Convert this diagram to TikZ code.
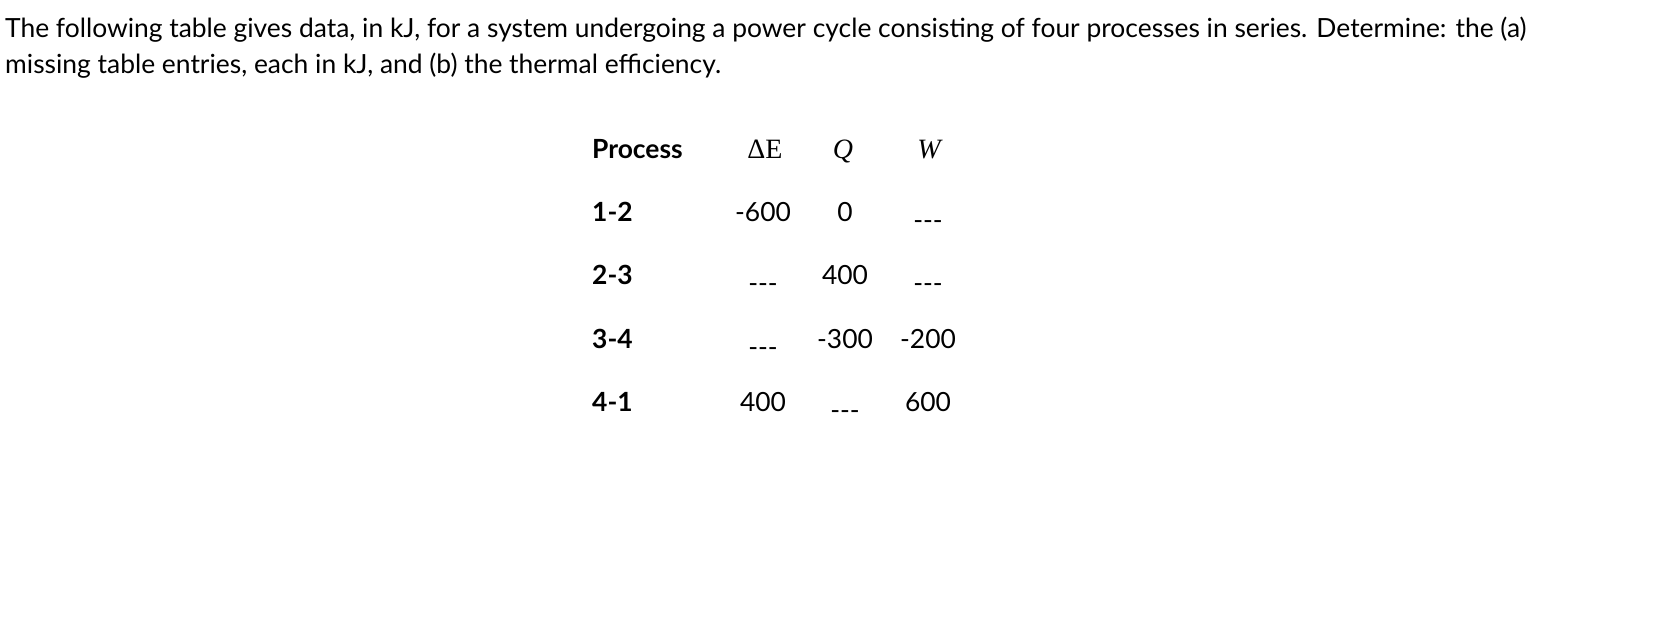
\documentclass[tikz,border=0pt]{standalone}
\usepackage{fontspec}
\setmainfont{Lato}
\newfontfamily\serif{Liberation Serif}
\begin{document}
\begin{tikzpicture}[x=1pt,y=-1pt,
  txt/.style={anchor=base west,inner sep=0pt,font=\fontsize{26.4}{30}\selectfont},
  cell/.style={anchor=base,inner sep=0pt,font=\fontsize{26.4}{30}\selectfont},
  hd/.style={anchor=base west,inner sep=0pt,font=\fontsize{26.4}{30}\selectfont\bfseries}]
\useasboundingbox (0,0) rectangle (1653,638);
\node[txt] (l1) at (5,37) {The following table gives data, in kJ, for a system undergoing a power cycle consisting of four processes in series. Determine: the (a)};
\node[txt] (l2) at (5,73) {missing table entries, each in kJ, and (b) the thermal efficiency.};
\newcommand{\dd}{\raisebox{-8pt}{-{}-{}-}}
\node[hd] (h0) at (592,158) {Process};
\node[cell,font=\fontsize{28}{30}\selectfont\serif] (h1) at (765,158) {ΔE};
\node[cell,font=\fontsize{28}{30}\selectfont\serif\itshape] (h2) at (843,158) {Q};
\node[cell,font=\fontsize{28}{30}\selectfont\serif\itshape] (h3) at (929,158) {W};
\node[hd] (r1) at (592,221) {1-2};
\node[hd] (r2) at (592,284) {2-3};
\node[hd] (r3) at (592,348) {3-4};
\node[hd] (r4) at (592,411) {4-1};
\node[cell] (a1) at (763,221) {-600};
\node[cell] (b1) at (845,221) {0};
\node[cell] (c1) at (928,221) {\dd};
\node[cell] (a2) at (763,284) {\dd};
\node[cell] (b2) at (845,284) {400};
\node[cell] (c2) at (928,284) {\dd};
\node[cell] (a3) at (763,348) {\dd};
\node[cell] (b3) at (845,348) {-300};
\node[cell] (c3) at (928,348) {-200};
\node[cell] (a4) at (763,411) {400};
\node[cell] (b4) at (845,411) {\dd};
\node[cell] (c4) at (928,411) {600};
\end{tikzpicture}
\end{document}
